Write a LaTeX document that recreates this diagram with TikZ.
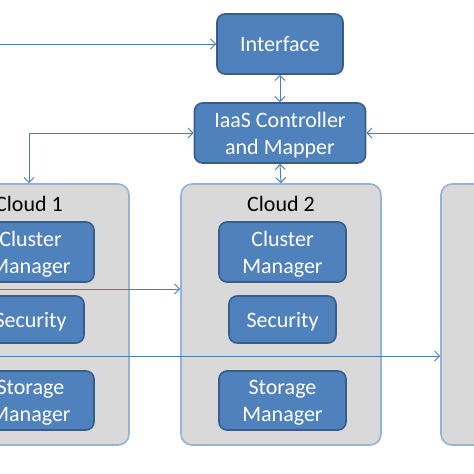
\documentclass[tikz,border=0pt]{standalone}
\usepackage{fontspec}
\setmainfont{Carlito}
\usetikzlibrary{arrows.meta}
\definecolor{unitfill}{HTML}{4F81BD}
\definecolor{unitedge}{HTML}{385D8A}
\definecolor{cloudfill}{HTML}{D9D9D9}
\definecolor{cloudedge}{HTML}{95B3D7}
\definecolor{linkblue}{HTML}{4A7EBB}
\begin{document}
\begin{tikzpicture}
    [x=1pt,y=-1pt,%
      unit/.style={shape=rectangle,rounded corners=8pt,fill=unitfill,draw=unitedge,
        line width=1.6pt,text=white,inner sep=0pt,align=center,text depth=0pt,
        minimum width=127pt},%
      cloud/.style={shape=rectangle,rounded corners=11pt,fill=cloudfill,draw=cloudedge,
        line width=1.6pt,minimum width=200pt,minimum height=261pt},%
      title/.style={inner sep=0pt},%
      link/.style={draw=linkblue,line width=1pt,-{Straight Barb[length=5pt,width=10pt]}},%
      both/.style={link,{Straight Barb[length=5pt,width=10pt]}-{Straight Barb[length=5pt,width=10pt]}}]
    \fontsize{22}{27}\selectfont
    \useasboundingbox (0,0) rectangle (474,474);
    \clip (0,0) rectangle (474,474);
    % top
    \node[unit,minimum width=126pt,minimum height=60pt] (interface) at (280,44) {Interface};
    \node[unit,minimum width=171pt,minimum height=60pt] (iaas) at (280,133) {IaaS Controller\\and Mapper};
    % clouds
    \node[cloud] (cloud1) at (29,314.5) {};
    \node[cloud] (cloud2) at (281,314.5) {};
    \node[cloud] (cloud3) at (541,314.5) {};
    \node[title] (title1) at (29,204) {Cloud 1};
    \node[title] (title2) at (281,204) {Cloud 2};
    \node[unit,minimum height=60pt] (cluster1) at (30.5,252) {Cluster\\Manager};
    \node[unit,minimum width=107pt,minimum height=47pt] (security1) at (30.5,319.5) {Security};
    \node[unit,minimum height=59pt] (storage1) at (30.5,400.5) {Storage\\Manager};
    \node[unit,minimum height=60pt] (cluster2) at (282.5,252) {Cluster\\Manager};
    \node[unit,minimum width=107pt,minimum height=47pt] (security2) at (282.5,319.5) {Security};
    \node[unit,minimum height=59pt] (storage2) at (282.5,400.5) {Storage\\Manager};
    % links
    \coordinate (userin) at (0,44);
    \coordinate (farright) at (474,133);
    \coordinate (toclouda) at (0,289);
    \coordinate (tocloudb) at (0,356);
    \draw[link] (userin) -- (interface.west);
    \draw[both] (interface.south) -- (iaas.north);
    \draw[both] (iaas.west) -| (cloud1.north);
    \draw[link] (farright) -- (iaas.east);
    \draw[both] (iaas.south) -- (cloud2.north);
    \draw[link] (toclouda) -- (toclouda -| cloud2.west);
    \draw[link] (tocloudb) -- (tocloudb -| cloud3.west);
\end{tikzpicture}
\end{document}
